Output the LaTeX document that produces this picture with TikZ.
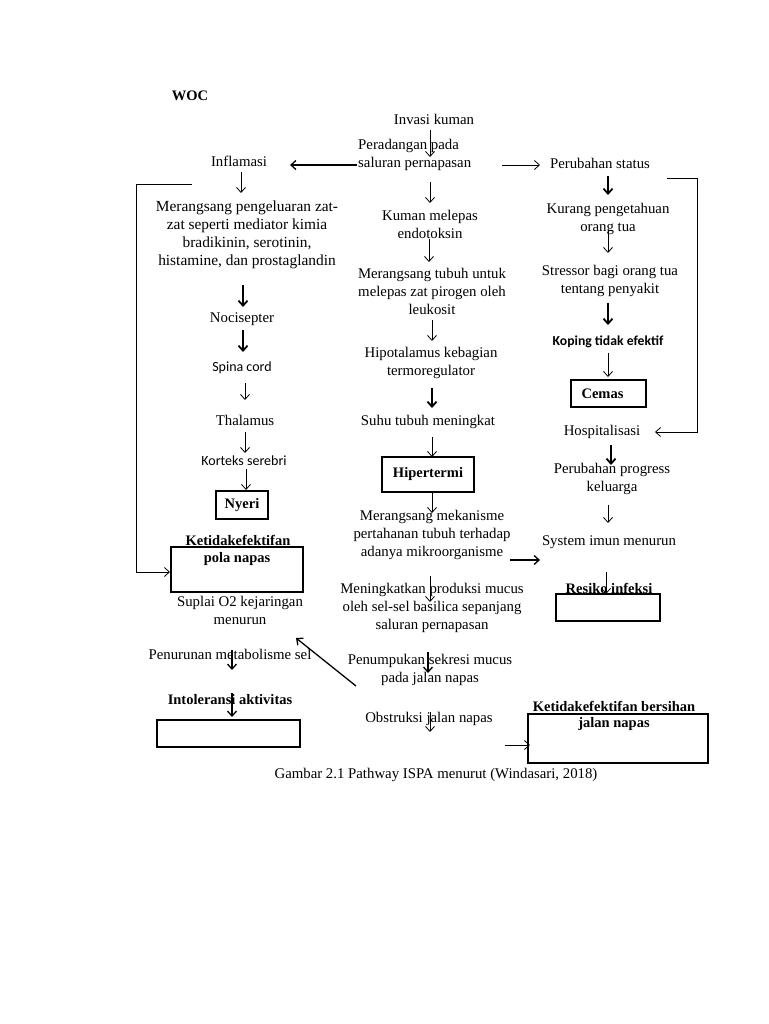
\documentclass[tikz,border=0pt]{standalone}
\usepackage{fontspec}
\setmainfont{Liberation Serif}
\newfontfamily\sansf{Carlito}
\usetikzlibrary{arrows.meta}
\begin{document}
\begin{tikzpicture}[x=1pt,y=-1pt,
  txt/.style={inner sep=0pt,align=center,font=\fontsize{14.8}{18}\selectfont},
  btxt/.style={txt,font=\fontsize{14.5}{18}\selectfont\bfseries},
  stxt/.style={inner sep=0pt,align=center,font=\sansf\fontsize{14}{18}\selectfont},
  box/.style={draw,line width=1.1pt,inner sep=0pt},
  arr/.style={-{Straight Barb[length=5pt,width=9pt]},line width=0.8pt},
  tarr/.style={-{Straight Barb[length=5pt,width=9pt]},line width=1.8pt},
  marr/.style={-{Straight Barb[length=5pt,width=9pt]},line width=1.3pt},
  ln/.style={line width=0.9pt}]
\useasboundingbox (0,0) rectangle (768,1024);
\fill[white] (0,0) rectangle (768,1024);

% ---- top
\node[btxt] (woc) at (190,96) {WOC};
\node[txt] (invasi) at (434,119) {Invasi kuman};
\node[txt,align=left,anchor=west] (perad) at (358,155) {Peradangan pada\\saluran pernapasan};
\node[txt] (inflamasi) at (239,161) {Inflamasi};
\node[txt] (perstatus) at (600,163) {Perubahan status};

% ---- left column
\node[txt,font=\fontsize{15.4}{18}\selectfont] (merang1) at (247,235) {Merangsang pengeluaran zat-\\zat seperti mediator kimia\\bradikinin, serotinin,\\histamine, dan prostaglandin};
\node[txt] (noci) at (242,319) {Nocisepter};
\node[stxt] (spina) at (242,368) {Spina cord};
\node[txt] (thal) at (245,420) {Thalamus};
\node[stxt] (korteks) at (244,461) {Korteks serebri};
\node[box,btxt,draw,line width=1.1pt,minimum width=52pt,minimum height=28pt] (nyeri) at (242,505) {Nyeri};
\node[btxt] (polatitle) at (238,540) {Ketidakefektifan};
\node[box,minimum width=132pt,minimum height=45pt] (polabox) at (237,569.5) {};
\node[btxt] (polatext) at (237,559) {pola napas};
\node[txt] (suplai) at (240,610) {Suplai O2 kejaringan\\menurun};
\node[txt] (penurunan) at (230,654) {Penurunan metabolisme sel};
\node[btxt] (intoltitle) at (230,700) {Intoleransi aktivitas};
\node[box,minimum width=143pt,minimum height=27pt] (intolbox) at (228.5,733.5) {};

% ---- middle column
\node[txt] (kuman) at (430,224) {Kuman melepas\\endotoksin};
\node[txt] (merangtubuh) at (432,291) {Merangsang tubuh untuk\\melepas zat pirogen oleh\\leukosit};
\node[txt] (hipot) at (431,362.5) {Hipotalamus kebagian\\termoregulator};
\node[txt] (suhu) at (428,422) {Suhu tubuh meningkat};
\node[box,btxt,draw,line width=1.1pt,minimum width=92pt,minimum height=35pt] (hiperbox) at (428,474.5) {Hipertermi};
\node[txt] (merang2) at (432,535) {Merangsang mekanisme\\pertahanan tubuh terhadap\\adanya mikroorganisme};
\node[txt] (meningkat) at (432,608) {Meningkatkan produksi mucus\\oleh sel-sel basilica sepanjang\\saluran pernapasan};
\node[txt] (penumpukan) at (430,670) {Penumpukan sekresi mucus\\pada jalan napas};
\node[txt] (obstruksi) at (429,719) {Obstruksi jalan napas};
\node[btxt] (bersihtitle) at (614,706) {Ketidakefektifan bersihan};
\node[box,minimum width=180pt,minimum height=49pt] (bersihbox) at (618,738.5) {};
\node[btxt] (bersihtext) at (614,724) {jalan napas};
\node[txt] (caption) at (436,775) {Gambar 2.1 Pathway ISPA menurut (Windasari, 2018)};

% ---- right column
\node[txt] (kurang) at (608,219) {Kurang pengetahuan\\orang tua};
\node[txt] (stressor) at (610,281) {Stressor bagi orang tua\\tentang penyakit};
\node[stxt,font=\sansf\fontsize{13.7}{16}\selectfont\bfseries] (koping) at (608,342) {Koping tidak efektif};
\node[box,btxt,draw,line width=1.1pt,minimum width=75pt,minimum height=27pt] (cemasbox) at (608.5,393.5) {Cemas\hspace{12pt}};
\node[txt] (hosp) at (602,432) {Hospitalisasi};
\node[txt] (progress) at (612,479) {Perubahan progress\\keluarga};
\node[txt] (system) at (609,542) {System imun menurun};
\node[btxt] (resikotitle) at (609,588) {Resiko infeksi};
\node[box,minimum width=104pt,minimum height=27pt] (resikobox) at (608,607.5) {};

% ---- connectors
\draw[arr] ([shift={(-4,11)}]invasi.center) -- ([shift={(72,2)}]perad.west);
\draw[marr] ([shift={(-1,10)}]perad.west) -- ([shift={(51,4)}]inflamasi.center);
\draw[arr] ([shift={(144,10)}]perad.west) -- ([shift={(-60,2)}]perstatus.center);
\draw[arr] ([shift={(67,15)}]perstatus.center) -| ([shift={(95,0)}]hosp.center) -- ([shift={(53,0)}]hosp.center);
\draw[arr] ([shift={(-47,23)}]inflamasi.center) -| ([shift={(-101,2.5)}]polabox.center) -- ([shift={(-67,2.5)}]polabox.center);

\draw[arr] ([shift={(2,11)}]inflamasi.center) -- ([shift={(-6,-42)}]merang1.center);
\draw[tarr] ([shift={(-4,50)}]merang1.center) -- ([shift={(1,-12)}]noci.center);
\draw[tarr] ([shift={(1,11)}]noci.center) -- ([shift={(1,-16)}]spina.center);
\draw[arr] ([shift={(3,15)}]spina.center) -- ([shift={(0,-20)}]thal.center);
\draw[arr] ([shift={(0,12)}]thal.center) -- ([shift={(1,-8)}]korteks.center);
\draw[arr] ([shift={(2,8)}]korteks.center) -- ([shift={(4,-15)}]nyeri.center);
\draw[marr] ([shift={(2,-4)}]penurunan.center) -- ([shift={(2,-30)}]intoltitle.center);
\draw[marr] ([shift={(2,-7)}]intoltitle.center) -- ([shift={(3.5,-16.5)}]intolbox.center);

\draw[arr] ([shift={(72,27)}]perad.west) -- ([shift={(0,-21)}]kuman.center);
\draw[arr] ([shift={(-1,15)}]kuman.center) -- ([shift={(-3,-29)}]merangtubuh.center);
\draw[arr] ([shift={(0,29)}]merangtubuh.center) -- ([shift={(1,-21.5)}]hipot.center);
\draw[tarr] ([shift={(1,25.5)}]hipot.center) -- ([shift={(4,-14)}]suhu.center);
\draw[arr] ([shift={(4,15)}]suhu.center) -- ([shift={(4,-17.5)}]hiperbox.center);
\draw[arr] ([shift={(4,18.5)}]hiperbox.center) -- ([shift={(0,-22)}]merang2.center);
\draw[marr] ([shift={(78,25)}]merang2.center) -- ([shift={(-69,18)}]system.center);
\draw[arr] ([shift={(-2,41)}]merang2.center) -- ([shift={(-2,-6)}]meningkat.center);
\draw[marr] ([shift={(-4,44)}]meningkat.center) -- ([shift={(-2,3)}]penumpukan.center);
\draw[marr] ([shift={(-74,16)}]penumpukan.center) -- ([shift={(66,-16)}]penurunan.center);
\draw[arr] ([shift={(0,42)}]penumpukan.center) -- ([shift={(1,13)}]obstruksi.center);
\draw[arr] ([shift={(76,26)}]obstruksi.center) -- ([shift={(-88,6.5)}]bersihbox.center);

\draw[tarr] ([shift={(8,13)}]perstatus.center) -- ([shift={(0,-24)}]kurang.center);
\draw[arr] ([shift={(0,11)}]kurang.center) -- ([shift={(-2,-28)}]stressor.center);
\draw[tarr] ([shift={(-2,22)}]stressor.center) -- ([shift={(0,-17)}]koping.center);
\draw[arr] ([shift={(0,11)}]koping.center) -- ([shift={(-0.5,-16.5)}]cemasbox.center);
\draw[tarr] ([shift={(9,13)}]hosp.center) -- ([shift={(-1,-14)}]progress.center);
\draw[arr] ([shift={(-4,26)}]progress.center) -- ([shift={(-1,-19)}]system.center);
\draw[arr] ([shift={(-3,30)}]system.center) -- ([shift={(-2,-13.5)}]resikobox.center);
\end{tikzpicture}
\end{document}
